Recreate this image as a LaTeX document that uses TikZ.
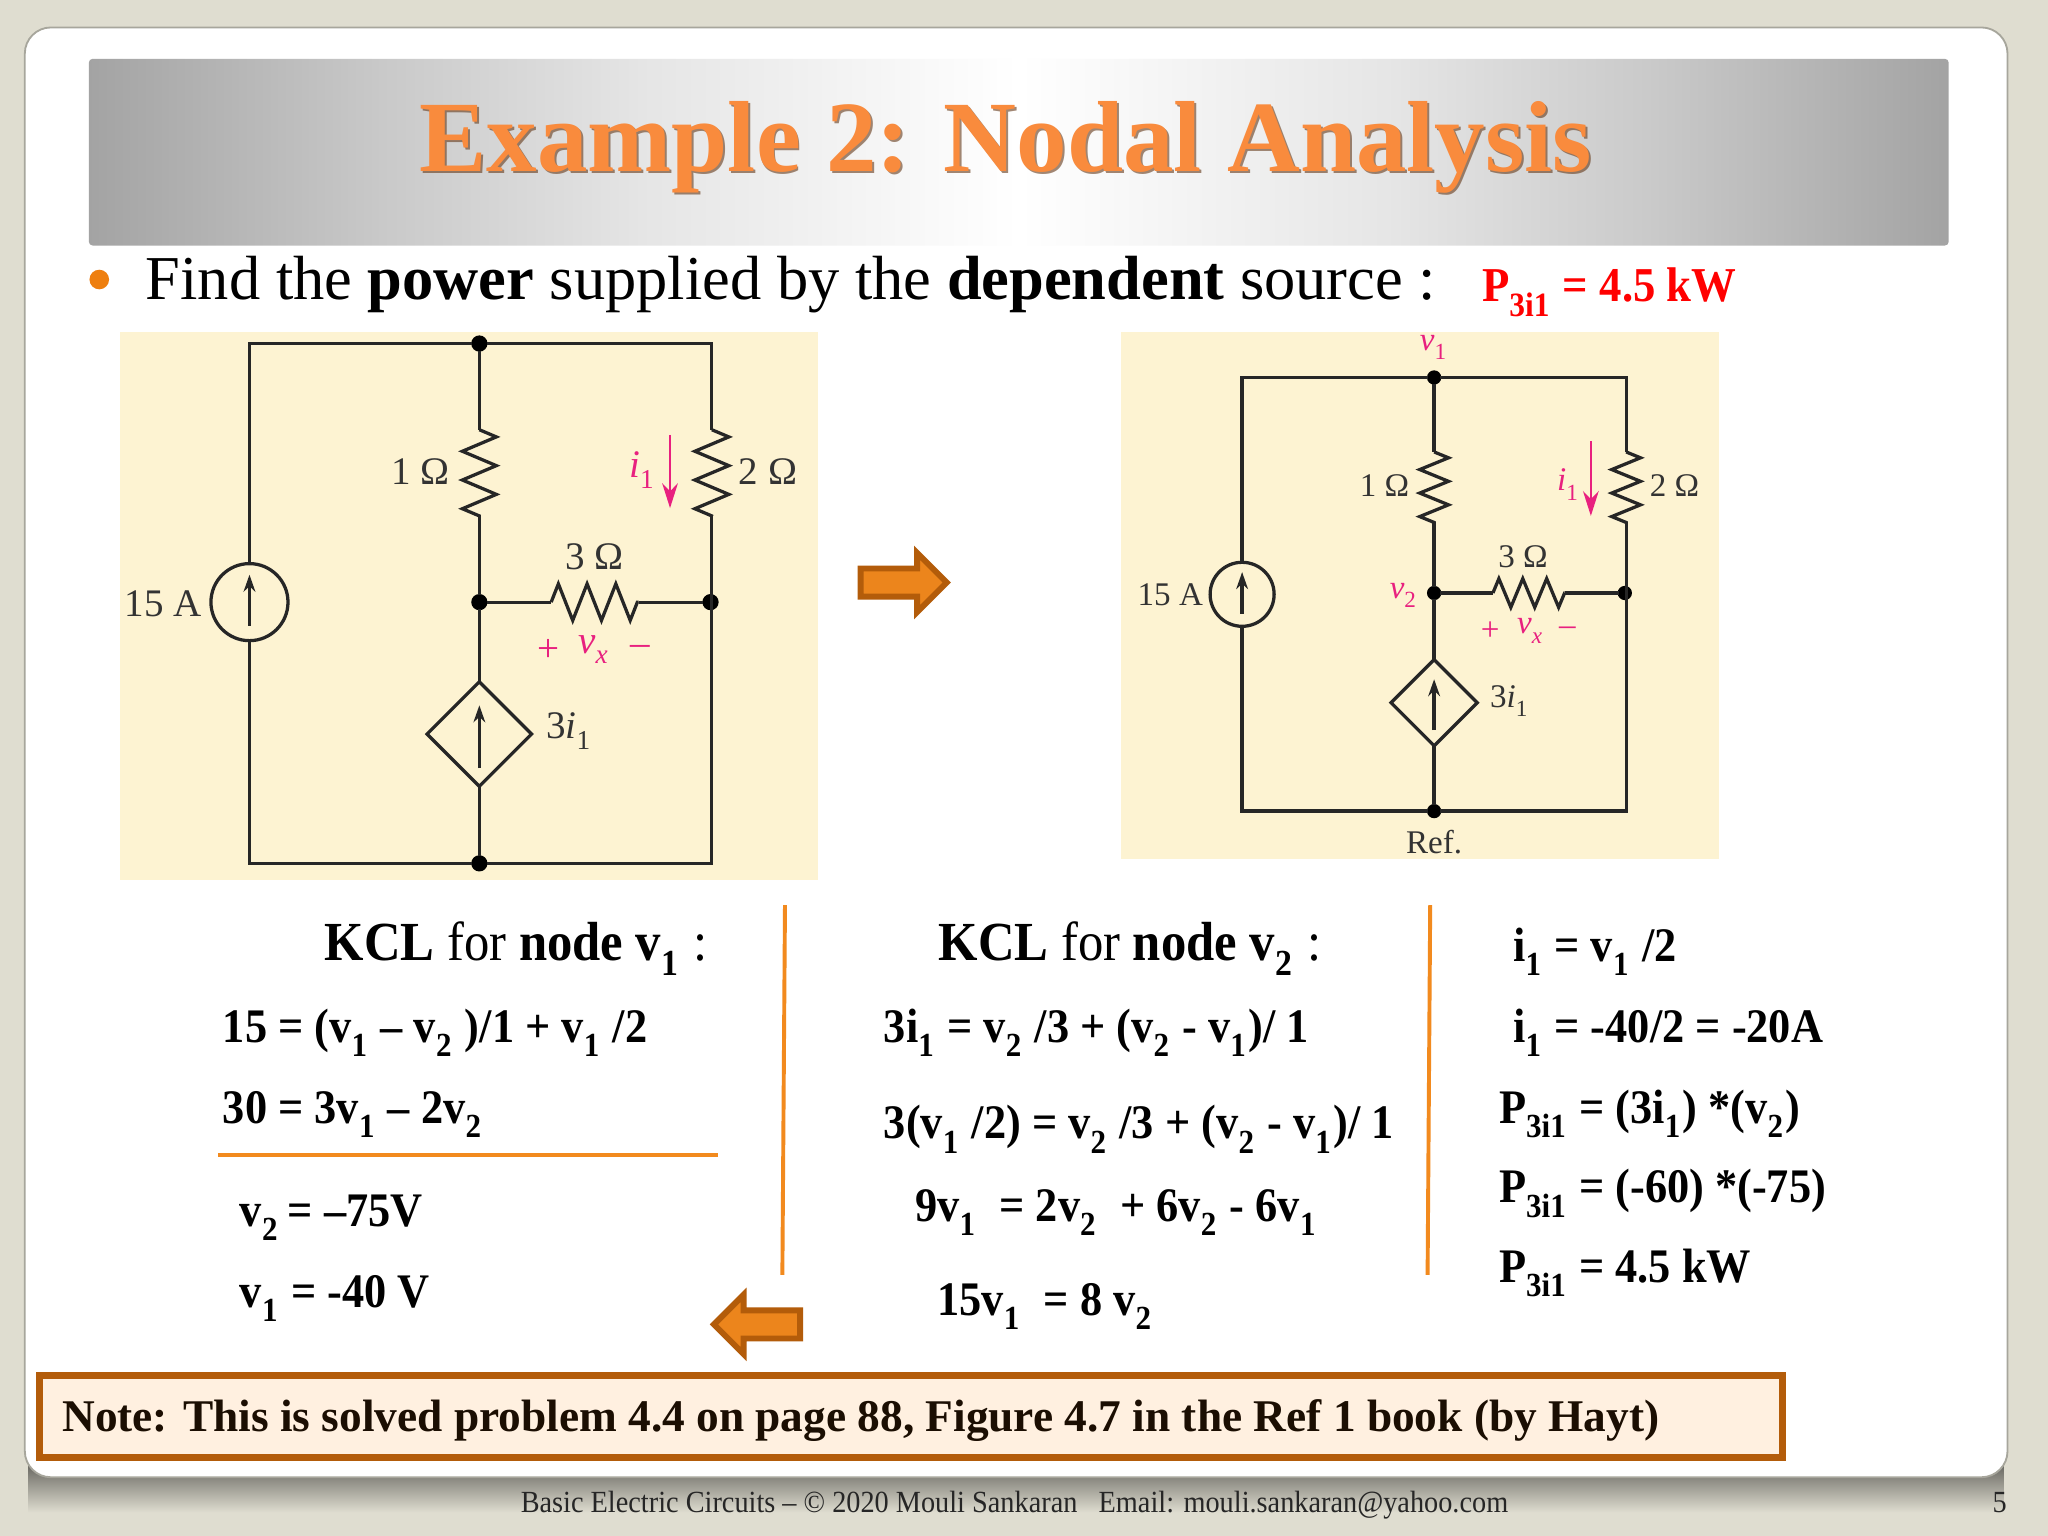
\documentclass[tikz,border=0pt]{standalone}
\usepackage{fontspec}
\setmainfont{Liberation Serif}
\newfontfamily\narrowfont[FakeStretch=0.92]{Liberation Serif}
\usepackage{tikz}
\usetikzlibrary{positioning}
\usetikzlibrary{shapes.geometric}
\usetikzlibrary{shapes.arrows}
\usetikzlibrary{arrows.meta}
\usetikzlibrary{decorations.pathmorphing}
\definecolor{slidebg}{HTML}{DFDDD0}
\definecolor{panel}{HTML}{FDF3D2}
\definecolor{accent}{HTML}{F28A1E}
\definecolor{bulletor}{HTML}{EE7F0F}
\definecolor{burnt}{HTML}{B35C0A}
\definecolor{titleor}{HTML}{F98B3D}
\definecolor{pinkish}{HTML}{E8207F}
\pgfdeclarehorizontalshading{titlebar}{100bp}{
    color(0bp)=(black!36); color(25bp)=(black!36); color(33bp)=(black!21);
    color(40bp)=(black!10); color(50bp)=(white); color(60bp)=(black!10);
    color(67bp)=(black!21); color(75bp)=(black!36); color(100bp)=(black!36)}
\newcommand{\subs}[1]{\raisebox{-0.14em}{\textsubscript{#1}}}
\newcommand{\ivar}[1]{\textit{#1}}

\begin{document}
\begin{tikzpicture}[
                x=0.1mm,
                y=-0.1mm,
                junct/.style = {
                    draw,
                    circle,
                    fill,
                    minimum size = #1,
                    inner sep = 0pt,
                    outer sep = 0pt
                },
                junct/.default = 1.1mm,
                wire/.style = {line width = 0.25mm, black!85},
                res/.style = {wire, decorate, decoration={zigzag, amplitude=#1, segment length=2.2mm}},
                res/.default = 1.3mm,
                isrc/.style = {draw, circle, line width = 0.25mm, black!85, inner sep = 0pt, outer sep = 0pt, minimum size = #1},
                vccs/.style = {draw, diamond, aspect=1, line width = 0.25mm, black!85, inner sep = 0pt, outer sep = 0pt, minimum width = #1, minimum height = #1},
                srcarrow/.style = {wire, -{Stealth[length=1.3mm, width=0.9mm]}},
                pinkarrow/.style = {line width = 0.2mm, pinkish, -{Stealth[length=1.9mm, width=1.2mm]}},
                clabel/.style = {font=\fontsize{8.5}{10}\selectfont, black!80, inner sep = 0pt},
                plabel/.style = {font=\fontsize{8.5}{10}\selectfont, pinkish, inner sep = 0pt},
                clabelb/.style = {font=\fontsize{7.2}{9}\selectfont, black!80, inner sep = 0pt},
                plabelb/.style = {font=\fontsize{7.2}{9}\selectfont, pinkish, inner sep = 0pt},
                eqn/.style = {anchor=base west, inner sep = 0pt, font=\narrowfont\fontsize{10.5}{12}\selectfont\bfseries},
                kclhead/.style = {eqn, font=\narrowfont\fontsize{12}{14}\selectfont\bfseries},
                rule/.style = {line width = 0.3mm, accent},
                blockarrow/.style = {draw=burnt, fill=accent!90!burnt, single arrow, line width = 0.45mm, inner xsep = 0pt, inner ysep = 0.85mm, outer sep = 0pt, single arrow head extend = 1.2mm, minimum height = 6.6mm}
            ]
            \useasboundingbox (0,0) rectangle (1568,1176);
            \fill[slidebg] (0,0) rectangle (1568,1176);
            \shade[top color=black!55!slidebg, bottom color=slidebg] (22,1120) rectangle (1534,1158);
            \fill[white, draw=black!25!slidebg, rounded corners=2mm] (19,21) rectangle (1537,1131);
            % 
            \shade[shading=titlebar, rounded corners=0.3mm] (68,45) rectangle (1492,188);
            \node[anchor=base, inner sep=0pt, font=\fontsize{22}{26}\selectfont\bfseries, black!60!titleor, opacity=0.6] (titleshadow) at (771.5,132.5) {Example 2: Nodal Analysis};
            \node[anchor=base, inner sep=0pt, font=\fontsize{22}{26}\selectfont\bfseries, titleor] (title) at (770,131) {Example 2: Nodal Analysis};
            % 
            \node[circle, fill=bulletor, minimum size=1.5mm, inner sep=0pt] (bullet) at (76,214) {};
            \node[anchor=base west, inner sep=0pt, font=\fontsize{13.6}{15}\selectfont] (find) at (111,229) {Find the \textbf{power} supplied by the \textbf{dependent} source :};
            \node[anchor=base west, inner sep=0pt, font=\narrowfont\fontsize{10.6}{12}\selectfont\bfseries, red] (answer) at (1134,231) {P\subs{3i1} = 4.5 kW};
            % 
            \fill[panel] (92,254) rectangle (626,674);
            \node[junct] (top1) at (367,263) {};
            \node[junct] (mid1) at (367,461) {};
            \node[junct] (bot1) at (367,661) {};
            \node[junct] (nr1) at (544,461) {};
            \coordinate (tr1) at (545,263);
            \coordinate (br1) at (545,661);
            \node[isrc=5.9mm] (src1) at (191,461) {};
            \node[vccs=8mm] (dep1) at (367,562) {};
            \coordinate (ra1) at (367,329);
            \coordinate (rb1) at (367,395);
            \coordinate (sa1) at (545,329);
            \coordinate (sb1) at (545,395);
            \coordinate (ta1) at (422,461);
            \coordinate (tb1) at (489,461);
            % 
            \draw[wire] (src1.north) |- (top1) -- (tr1) -- (sa1);
            \draw[wire] (src1.south) |- (bot1) -- (br1) -- (sb1);
            \draw[wire] (top1) -- (ra1);
            \draw[wire] (rb1) -- (mid1) -- (dep1.north);
            \draw[wire] (dep1.south) -- (bot1);
            \draw[wire] (mid1) -- (ta1);
            \draw[wire] (tb1) -- (nr1);
            \draw[res] (ra1) -- (rb1);
            \draw[res] (sa1) -- (sb1);
            \draw[res=1.4mm] (ta1) -- (tb1);
            \draw[srcarrow] ([yshift=-1.8mm]src1.center) -- ([yshift=2.1mm]src1.center);
            \draw[srcarrow] ([yshift=-2.6mm]dep1.center) -- ([yshift=2.2mm]dep1.center);
            % 
            \coordinate (ia1) at (513,333);
            \coordinate (ib1) at (513,389);
            \draw[pinkarrow] (ia1) -- (ib1);
            \node[clabel] (l151) at (125,462) {15 A};
            \node[clabel] (l11) at (322,361) {1 Ω};
            \node[plabel] (li1) at (492,360) {\ivar{i}\subs{1}};
            \node[clabel] (l21) at (588,361) {2 Ω};
            \node[clabel] (l31) at (455,426) {3 Ω};
            \node[plabel] (lp1) at (420,498) {+};
            \node[plabel] (lv1) at (455,497) {\ivar{v}\subs{\ivar{x}}};
            \node[plabel] (lm1) at (490,498) {–};
            \node[clabel] (ldep1) at (436,560) {3\ivar{i}\subs{1}};
            % 
            \fill[panel] (858,254) rectangle (1316,658);
            \node[junct=0.95mm] (top2) at (1098,289) {};
            \node[junct=0.95mm] (mid2) at (1098,454) {};
            \node[junct=0.95mm] (bot2) at (1098,621) {};
            \node[junct=0.95mm] (nr2) at (1244,454) {};
            \coordinate (tr2) at (1245,289);
            \coordinate (br2) at (1245,621);
            \node[isrc=4.9mm] (src2) at (951,455) {};
            \node[vccs=6.6mm] (dep2) at (1098,538) {};
            \coordinate (ra2) at (1098,346);
            \coordinate (rb2) at (1098,400);
            \coordinate (sa2) at (1245,346);
            \coordinate (sb2) at (1245,400);
            \coordinate (ta2) at (1143,454);
            \coordinate (tb2) at (1198,454);
            % 
            \draw[wire] (src2.north) |- (top2) -- (tr2) -- (sa2);
            \draw[wire] (src2.south) |- (bot2) -- (br2) -- (sb2);
            \draw[wire] (top2) -- (ra2);
            \draw[wire] (rb2) -- (mid2) -- (dep2.north);
            \draw[wire] (dep2.south) -- (bot2);
            \draw[wire] (mid2) -- (ta2);
            \draw[wire] (tb2) -- (nr2);
            \draw[res=1.1mm, decoration={segment length=1.8mm}] (ra2) -- (rb2);
            \draw[res=1.1mm, decoration={segment length=1.8mm}] (sa2) -- (sb2);
            \draw[res=1.1mm, decoration={segment length=1.83mm}] (ta2) -- (tb2);
            \draw[srcarrow] ([yshift=-1.5mm]src2.center) -- ([yshift=1.7mm]src2.center);
            \draw[srcarrow] ([yshift=-2.1mm]dep2.center) -- ([yshift=1.8mm]dep2.center);
            % 
            \coordinate (ia2) at (1218,338);
            \coordinate (ib2) at (1218,395);
            \draw[pinkarrow] (ia2) -- (ib2);
            \node[plabelb] (lv12) at (1098,266) {\ivar{v}\subs{1}};
            \node[clabelb] (l152) at (896,455) {15 A};
            \node[clabelb] (l12) at (1060,372) {1 Ω};
            \node[plabelb] (li2) at (1201,371) {\ivar{i}\subs{1}};
            \node[clabelb] (l22) at (1282,372) {2 Ω};
            \node[plabelb] (lv22) at (1075,456) {\ivar{v}\subs{2}};
            \node[clabelb] (l32) at (1166,426) {3 Ω};
            \node[plabelb] (lp2) at (1141,483) {+};
            \node[plabelb] (lv2) at (1172,483) {\ivar{v}\subs{\ivar{x}}};
            \node[plabelb] (lm2) at (1200,483) {–};
            \node[clabelb] (ldep2) at (1156,537) {3\ivar{i}\subs{1}};
            \node[clabelb] (lref) at (1098,645) {Ref.};
            % 
            \node[blockarrow] (goright) at (686.5,446) {};
            \node[blockarrow, shape border rotate=180] (goleft) at (585,1014) {};
            % 
            \coordinate (sepa1) at (601,693);
            \coordinate (sepb1) at (599,976);
            \coordinate (sepa2) at (1095,693);
            \coordinate (sepb2) at (1093,976);
            \coordinate (hra) at (167,884);
            \coordinate (hrb) at (550,884);
            \draw[rule] (sepa1) -- (sepb1);
            \draw[rule] (sepa2) -- (sepb2);
            \draw[rule] (hra) -- (hrb);
            % 
            \node[kclhead] (kcl1) at (248,735) {KCL \textmd{for} node v\subs{1} \textmd{:}};
            \node[eqn] (e11) at (170,798) {15 = (v\subs{1} – v\subs{2} )/1 + v\subs{1} /2};
            \node[eqn] (e12) at (170,860) {30 = 3v\subs{1} – 2v\subs{2}};
            \node[eqn] (e13) at (183,939) {v\subs{2}\,= –75V};
            \node[eqn] (e14) at (183,1001) {v\subs{1} = -40 V};
            % 
            \node[kclhead] (kcl2) at (718,735) {KCL \textmd{for} node v\subs{2} \textmd{:}};
            \node[eqn] (e21) at (676,798) {3i\subs{1} = v\subs{2} /3 + (v\subs{2} - v\subs{1})/ 1};
            \node[eqn] (e22) at (676,872) {3(v\subs{1} /2) = v\subs{2} /3 + (v\subs{2} - v\subs{1})/ 1};
            \node[eqn] (e23) at (700,935) {9v\subs{1} \ = 2v\subs{2} \ + 6v\subs{2} - 6v\subs{1}};
            \node[eqn] (e24) at (717,1007) {15v\subs{1} \ = 8 v\subs{2}};
            % 
            \node[eqn] (e31) at (1158,736) {i\subs{1} = v\subs{1} /2};
            \node[eqn] (e32) at (1158,798) {i\subs{1} = -40/2 = -20A};
            \node[eqn] (e33) at (1147,860) {P\subs{3i1} = (3i\subs{1}) *(v\subs{2})};
            \node[eqn] (e34) at (1147,921) {P\subs{3i1} = (-60) *(-75)};
            \node[eqn] (e35) at (1147,982) {P\subs{3i1} = 4.5 kW};
            % 
            \node[draw=burnt, fill=orange!12, line width=0.55mm, minimum width=133.5mm, minimum height=6.3mm, inner sep=0pt, outer sep=0pt] (note) at (697.5,1084.5) {};
            \node[anchor=base west, inner sep=0pt, font=\fontsize{9.88}{12}\selectfont\bfseries, black!85!burnt] (notetext) at (47,1096) {Note: This is solved problem 4.4 on page 88, Figure 4.7 in the Ref 1 book (by Hayt)};
            % 
            \node[anchor=base west, inner sep=0pt, font=\narrowfont\fontsize{6.7}{8}\selectfont, black!85] (footer) at (398,1158) {Basic Electric Circuits – © 2020 Mouli Sankaran \ \ Email: mouli.sankaran@yahoo.com};
            \node[anchor=base, inner sep=0pt, font=\narrowfont\fontsize{6.7}{8}\selectfont, black!85] (pageno) at (1531,1158) {5};
        \end{tikzpicture}
\end{document}
